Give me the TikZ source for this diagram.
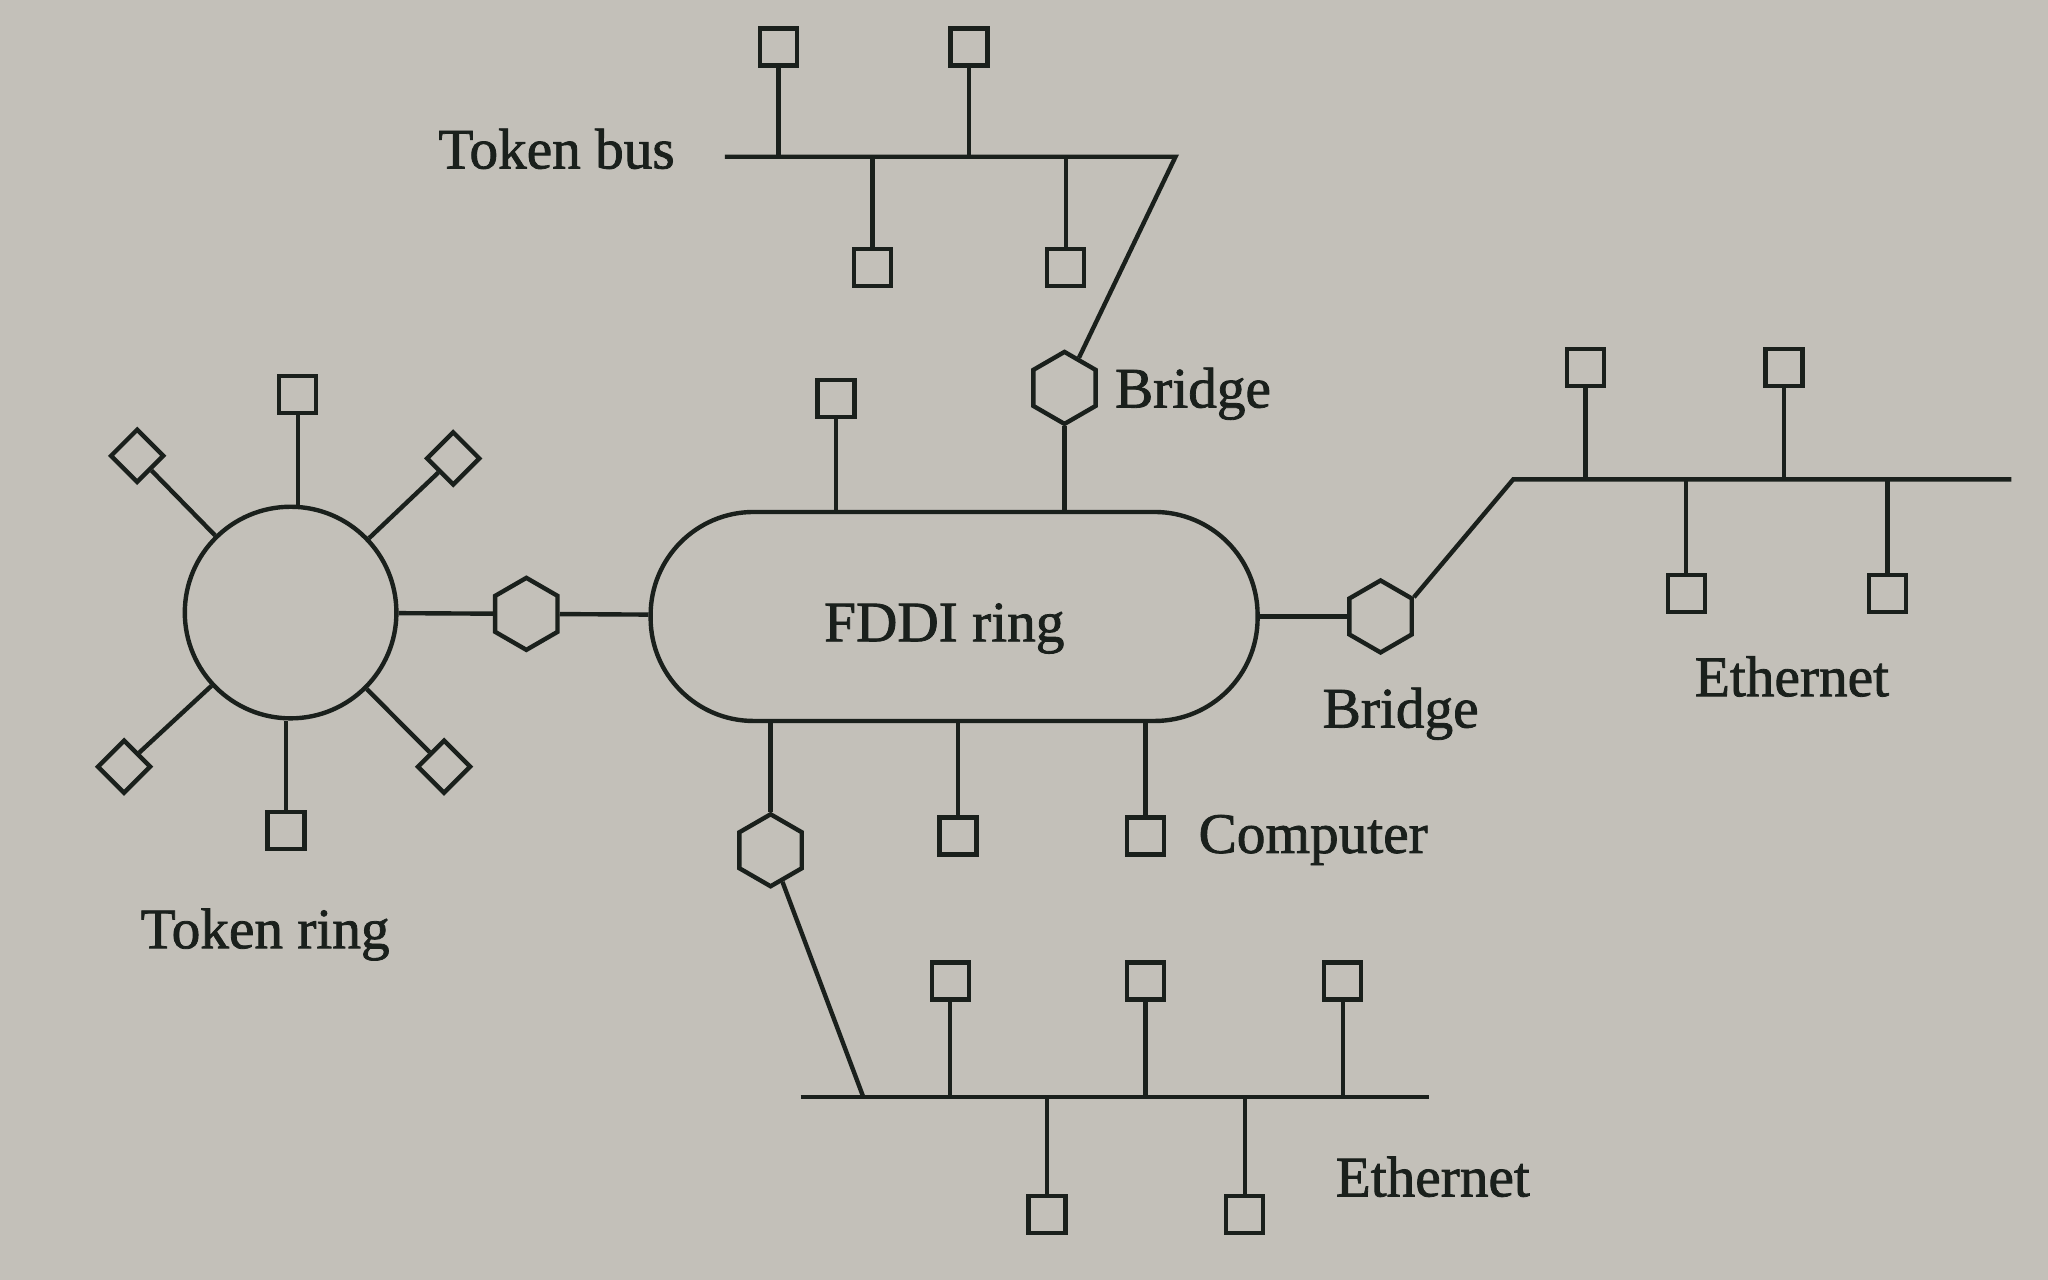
\documentclass[tikz,border=0pt]{standalone}
\usepackage{fontspec}
\setmainfont{Liberation Serif}[FakeBold=1.4]
\usetikzlibrary{shapes.geometric}
\definecolor{paper}{RGB}{195,192,185}
\definecolor{ink}{RGB}{26,32,28}
\begin{document}
\begin{tikzpicture}[x=0.013061cm,y=-0.013061cm,color=ink,line width=1.25pt,
  station/.style={draw=ink,rectangle,minimum size=0.37cm,inner sep=0pt},
  dstation/.style={draw=ink,diamond,minimum width=0.54cm,minimum height=0.54cm,inner sep=0pt},
  bridgehex/.style={draw=ink,regular polygon,regular polygon sides=6,shape border rotate=90,minimum size=0.72cm,inner sep=0pt},
  ringc/.style={draw=ink,circle,minimum size=2.116cm,inner sep=0pt},
  fddishape/.style={draw=ink,rectangle,rounded corners=1.03cm,minimum width=6.07cm,minimum height=2.09cm,inner sep=0pt},
  lbl/.style={text=ink,font=\fontsize{16.3}{19}\selectfont,inner sep=0pt}
]
\fill[paper] (0,0) rectangle (1568,980);
\useasboundingbox (0,0) rectangle (1568,980);

% FDDI ring
\node[fddishape] (fddi) at (730.5,472) {};
\node[lbl,anchor=base] (fddilbl) at (723,491) {FDDI ring};

% Token bus
\coordinate (tbL) at (555,120);
\coordinate (tbR) at (900,120);
\node[station] (tb1) at (596,36) {};
\node[station] (tb2) at (742,36) {};
\node[station] (tb3) at (668,205) {};
\node[station] (tb4) at (816,205) {};
\node[bridgehex] (hexT) at (815,297) {};
\draw (tbL) -- (tbR) -- (hexT);
\draw (tb1) -- (tb1 |- tbL);
\draw (tb2) -- (tb2 |- tbL);
\draw (tb3) -- (tb3 |- tbL);
\draw (tb4) -- (tb4 |- tbL);
\draw (hexT) -- (hexT |- fddi.north);
\node[lbl,anchor=base west] (tblbl) at (334,129) {Token bus};
\node[lbl,anchor=base west] (brT) at (852,312) {Bridge};

% station above FDDI
\node[station] (sqF) at (640,305) {};
\draw (sqF) -- (sqF |- fddi.north);

% Token ring
\node[ringc] (ring) at (222.5,469) {};
\node[station] (rT) at (228,302) {};
\node[station] (rB) at (219,636) {};
\node[dstation] (dTL) at (105,349) {};
\node[dstation] (dTR) at (347,351) {};
\node[dstation] (dBL) at (95,587) {};
\node[dstation] (dBR) at (340,587) {};
\draw (rT) -- (rT |- ring.north);
\draw (rB) -- (rB |- ring.south);
\draw (dTL) -- (ring);
\draw (dTR) -- (ring);
\draw (dBL) -- (ring);
\draw (dBR) -- (ring);
\node[bridgehex] (hexL) at (403,470) {};
\draw (ring) -- (hexL) -- (fddi);
\node[lbl,anchor=base west] (trlbl) at (106,726) {Token ring};

% Right Ethernet
\node[bridgehex] (hexR) at (1057,472) {};
\draw (fddi) -- (hexR);
\coordinate (erJ) at (1158.6,367);
\coordinate (erR) at (1540,367);
\draw (hexR.30) -- (erJ) -- (erR);
\node[station] (er1) at (1214,281.5) {};
\node[station] (er2) at (1366,281.5) {};
\node[station] (er3) at (1291,454.5) {};
\node[station] (er4) at (1445,454.5) {};
\draw (er1) -- (er1 |- erJ);
\draw (er2) -- (er2 |- erJ);
\draw (er3) -- (er3 |- erJ);
\draw (er4) -- (er4 |- erJ);
\node[lbl,anchor=base west] (brR) at (1011,557) {Bridge};
\node[lbl,anchor=base west] (ethR) at (1296,533) {Ethernet};

% Computers below FDDI
\node[station] (sqC1) at (733.5,640) {};
\node[station] (sqC2) at (877,640) {};
\draw (sqC1) -- (sqC1 |- fddi.south);
\draw (sqC2) -- (sqC2 |- fddi.south);
\node[lbl,anchor=base west] (complbl) at (916,653) {Computer};

% Bottom Ethernet
\node[bridgehex] (hexB) at (590,651) {};
\draw (hexB) -- (hexB |- fddi.south);
\coordinate (ebL) at (613,840);
\coordinate (ebJ) at (661,840);
\coordinate (ebR) at (1094,840);
\draw (hexB) -- (ebJ);
\draw (ebL) -- (ebR);
\node[station] (eb1) at (727.5,751) {};
\node[station] (eb2) at (877,751) {};
\node[station] (eb3) at (1028,751) {};
\node[station] (eb4) at (801.5,930) {};
\node[station] (eb5) at (953,930) {};
\draw (eb1) -- (eb1 |- ebL);
\draw (eb2) -- (eb2 |- ebL);
\draw (eb3) -- (eb3 |- ebL);
\draw (eb4) -- (eb4 |- ebL);
\draw (eb5) -- (eb5 |- ebL);
\node[lbl,anchor=base west] (ethB) at (1021,916) {Ethernet};
\end{tikzpicture}
\end{document}
